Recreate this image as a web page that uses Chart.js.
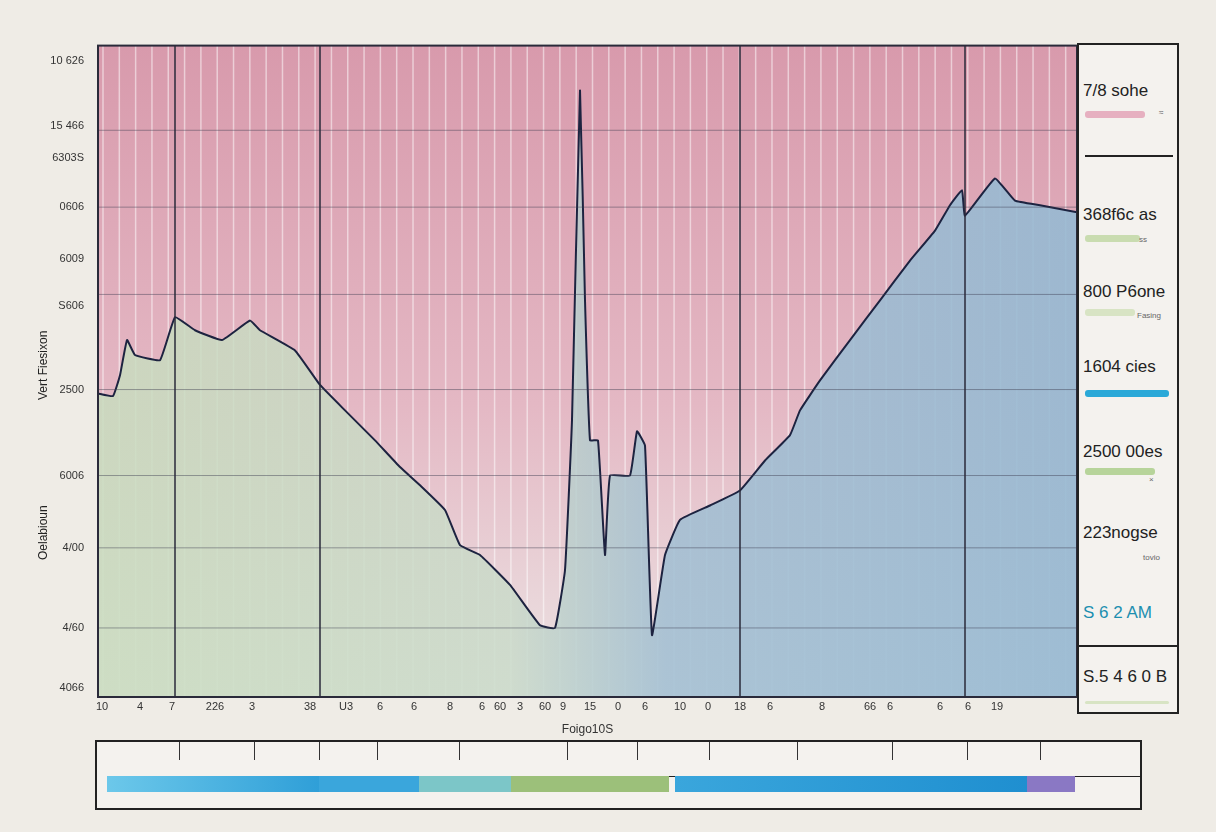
<!DOCTYPE html>
<html><head><meta charset="utf-8">
<script src="https://cdn.jsdelivr.net/npm/chart.js@4.4.0/dist/chart.umd.min.js"></script>
<style>
body{margin:0;background:#efece6;width:1216px;height:832px;overflow:hidden;font-family:"Liberation Sans",Arial,sans-serif;position:relative}
#wrap{position:absolute;left:30px;top:33px;width:1047px;height:704px}
.side{position:absolute;left:1077px;top:43px;width:102px;height:671px;border:2px solid #222;background:#f4f2ee;box-sizing:border-box}
.it{position:absolute;left:4px;font-size:17px;color:#222;white-space:nowrap}
.sub{position:absolute;font-size:8px;color:#666}
.bar{position:absolute;height:7px;border-radius:3px}
.bot{position:absolute;left:95px;top:740px;width:1047px;height:70px;border:2px solid #222;box-sizing:border-box;background:#f4f2ee}
.tk{position:absolute;top:0;width:1px;height:18px;background:#333}
.yt{position:absolute;font-size:12px;color:#222;transform:rotate(-90deg);transform-origin:left top;white-space:nowrap}
</style></head><body>
<div id="wrap"><canvas id="c"></canvas></div>
<div class="yt" style="left:36px;top:400px">Vert Fiesixon</div>
<div class="yt" style="left:36px;top:560px">Oelabioun</div>
<div class="side">
 <div class="it" style="top:36px">7/8 sohe</div><div class="bar" style="left:6px;top:66px;width:60px;background:#e6b0c0"></div><div class="sub" style="left:80px;top:63px">≈</div>
 <div style="position:absolute;left:6px;top:110px;width:88px;height:2px;background:#222"></div>
 <div class="it" style="top:160px">368f6c as</div><div class="bar" style="left:6px;top:190px;width:55px;background:#c9dcb0"></div><div class="sub" style="left:60px;top:190px">ss</div>
 <div class="it" style="top:237px">800 P6one</div><div class="bar" style="left:6px;top:264px;width:50px;background:#d8e4c4"></div><div class="sub" style="left:58px;top:266px">Fasing</div>
 <div class="it" style="top:312px">1604 cies</div><div class="bar" style="left:6px;top:345px;width:84px;background:#2aa9d8"></div>
 <div class="it" style="top:397px">2500 00es</div><div class="bar" style="left:6px;top:423px;width:70px;background:#b7d49a"></div><div class="sub" style="left:70px;top:430px">×</div>
 <div class="it" style="top:478px">223nogse</div><div class="sub" style="left:64px;top:508px">tovio</div>
 <div class="it" style="top:558px;color:#1b8fb0">S 6 2 AM</div>
 <div style="position:absolute;left:0;top:600px;width:100%;height:2px;background:#222"></div>
 <div class="it" style="top:622px">S.5 4 6 0 B</div><div class="bar" style="left:6px;top:656px;width:84px;height:3px;background:#d8e4c4"></div>
</div>
<div class="bot">
 <div class="tk" style="left:82px"></div><div class="tk" style="left:157px"></div><div class="tk" style="left:222px"></div><div class="tk" style="left:280px"></div><div class="tk" style="left:362px"></div><div class="tk" style="left:470px"></div><div class="tk" style="left:540px"></div><div class="tk" style="left:612px"></div><div class="tk" style="left:700px"></div><div class="tk" style="left:795px"></div><div class="tk" style="left:870px"></div><div class="tk" style="left:943px"></div>
 <div style="position:absolute;left:10px;top:34px;width:1035px;height:1px;background:#222"></div>
 <div class="bar" style="left:10px;top:34px;width:212px;height:16px;border-radius:0;background:linear-gradient(90deg,#6cc8ea,#2f9fd8)"></div>
 <div class="bar" style="left:222px;top:34px;width:100px;height:16px;border-radius:0;background:#3aa6dc"></div>
 <div class="bar" style="left:322px;top:34px;width:92px;height:16px;border-radius:0;background:#7cc6c8"></div>
 <div class="bar" style="left:414px;top:34px;width:158px;height:16px;border-radius:0;background:#9cc07a"></div>
 <div class="bar" style="left:578px;top:34px;width:352px;height:16px;border-radius:0;background:linear-gradient(90deg,#3aa6dc,#1f8fd0)"></div>
 <div class="bar" style="left:930px;top:34px;width:48px;height:16px;border-radius:0;background:#8a78c4"></div>
</div>
<script>
const lineX=[98,113,120,127,135,160,175,195,222,250,260,295,320,345,375,400,420,445,460,480,510,540,555,565,572,580,585,590,598,605,610,630,637,645,652,665,680,710,740,765,790,800,820,850,880,910,935,950,962,965,995,1015,1040,1077];
const lineY=[46.6,46.2,49.4,54.8,52.5,51.7,58.3,56.3,54.8,57.8,56.3,53.2,47.9,44,39.4,35.3,32.5,28.7,23.3,21.8,17.2,11,10.6,19.5,42.5,93.1,60.9,39.4,39.4,21.8,34,34,40.8,38.6,9.5,21.8,27.2,29.4,31.7,36.3,40.2,44,48.6,54.8,60.9,67.0,71.6,75.5,77.8,73.9,79.6,76.2,75.5,74.4];
const xTickPos=[102,140,172,215,252,310,346,380,414,450,482,500,520,545,563,590,618,645,680,708,740,770,822,870,890,940,968,997];
const xTickLabels=["10","4","7","226","3","38","U3","6","6","8","6","60","3","60","9","15","0","6","10","0","18","6","8","66","6","6","6","19"];
const heavyX=[175,320,740,965];
const yTickPos=[97.7,87.7,82.8,75.2,67.3,60.1,47.2,34,22.9,10.6,1.4];
const yTickLabels=["10 626","15 466","6303S","0606","6009","S606","2500","6006","4/00","4/60","4066"];
const xTitle="Foigo10S";

const bgPlugin={id:'bg',beforeDatasetsDraw(ch){const a=ch.chartArea,c=ch.ctx;c.save();
 let g=c.createLinearGradient(0,a.top,0,a.bottom);g.addColorStop(0,'#d89aac');g.addColorStop(0.55,'#e4b8c4');g.addColorStop(1,'#ece4e4');
 c.fillStyle=g;c.fillRect(a.left,a.top,a.width,a.height);
 c.strokeStyle='rgba(255,255,255,0.5)';c.lineWidth=1.5;
 for(let i=0;i<60;i++){const x=a.left+i*a.width/60+5;c.beginPath();c.moveTo(x,a.top);c.lineTo(x,a.bottom);c.stroke();}
 c.restore();},
 afterDatasetsDraw(ch){const a=ch.chartArea,c=ch.ctx;c.save();
 c.strokeStyle='rgba(60,60,80,0.45)';c.lineWidth=1;const ys=ch.scales.y;
 [87,75.2,61.8,47.2,34,22.9,10.6].forEach(v=>{const y=ys.getPixelForValue(v);c.beginPath();c.moveTo(a.left,y);c.lineTo(a.right,y);c.stroke();});
 c.strokeStyle='#2a2a3a';c.lineWidth=1.5;const xs=ch.scales.x;
 heavyX.forEach(v=>{const x=xs.getPixelForValue(v);c.beginPath();c.moveTo(x,a.top);c.lineTo(x,a.bottom);c.stroke();});
 c.lineWidth=2;c.strokeRect(a.left,a.top,a.width,a.height);c.restore();}};
new Chart(document.getElementById('c'),{type:'line',
 data:{datasets:[{data:lineX.map((x,i)=>({x,y:lineY[i]})),borderColor:'#1d2340',borderWidth:2,pointRadius:0,tension:0.1,fill:'origin',
  backgroundColor(ctx){const a=ctx.chart.chartArea;if(!a)return'rgba(0,0,0,0)';const g=ctx.chart.ctx.createLinearGradient(a.left,0,a.right,0);
   g.addColorStop(0,'rgba(200,220,190,0.85)');g.addColorStop(0.42,'rgba(200,218,200,0.8)');g.addColorStop(0.58,'rgba(160,190,210,0.85)');g.addColorStop(1,'rgba(150,185,210,0.9)');return g;}}]},
 options:{responsive:true,maintainAspectRatio:false,animation:false,layout:{padding:0},
  plugins:{legend:{display:false},tooltip:{enabled:false}},
  scales:{
   x:{type:'linear',min:98,max:1077,afterBuildTicks(s){s.ticks=xTickPos.map(v=>({value:v}));},
    afterFit(s){s.height=40;},
    ticks:{autoSkip:false,maxRotation:0,color:'#333',font:{size:11},callback(v){const i=xTickPos.indexOf(v);return i>=0?xTickLabels[i]:'';}},
    grid:{color:'rgba(120,110,140,0.45)',drawTicks:false},border:{display:false},
    title:{display:true,text:xTitle,color:'#333',font:{size:12},padding:0}},
   y:{min:0,max:100,afterBuildTicks(s){s.ticks=yTickPos.map(v=>({value:v}));},
    afterFit(s){s.width=68;},
    ticks:{autoSkip:false,color:'#333',font:{size:11},padding:6,callback(v){const i=yTickPos.indexOf(v);return i>=0?yTickLabels[i]:'';}},
    grid:{display:false},border:{display:false}}}},
 plugins:[bgPlugin]});
</script></body></html>
